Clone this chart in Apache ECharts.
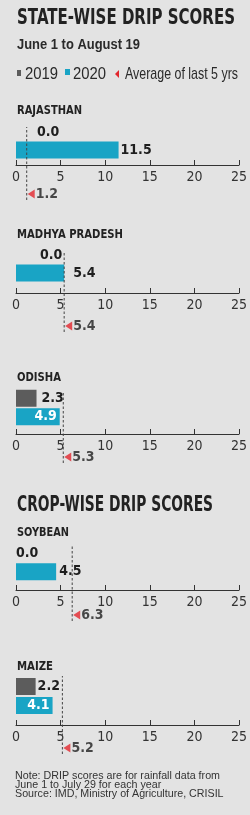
<!DOCTYPE html>
<html><head><meta charset="utf-8">
<script src="https://cdn.jsdelivr.net/npm/echarts@6/dist/echarts.min.js"></script>
<style>html,body{margin:0;padding:0;background:#e3e3e3;}#c{width:250px;height:815px;}</style>
</head><body><div id="c"></div>
<script>
// ---- data ----
const titleMain = 'STATE-WISE DRIP SCORES';
const subtitle = 'June 1 to August 19';
const legendLabels = ['2019', '2020', 'Average of last 5 yrs'];
const titleCrop = 'CROP-WISE DRIP SCORES';
const panelNames = ['RAJASTHAN', 'MADHYA PRADESH', 'ODISHA', 'SOYBEAN', 'MAIZE'];
const years = ['2019', '2020'];
const scores2019 = [0.0, 0.0, 2.3, 0.0, 2.2];
const scores2020 = [11.5, 5.4, 4.9, 4.5, 4.1];
const avg5yr = [1.2, 5.4, 5.3, 6.3, 5.2];
const axisMin = 0, axisMax = 25, axisStep = 5;
const notes = ['Note: DRIP scores are for rainfall data from', 'June 1 to July 29 for each year', 'Source: IMD, Ministry of Agriculture, CRISIL'];

// ---- layout / style ----
const C_BG = '#e3e3e3', C_GREY = '#5c5c5c', C_CYAN = '#19a4c5', C_RED = '#e2262d', C_TXT = '#1e1e1e';
const NARROW = '"DejaVu Sans Condensed","Liberation Sans Narrow","Liberation Sans",sans-serif';
const SANS = '"Liberation Sans",sans-serif';
const HEAVY = '"DejaVu Sans",sans-serif';
const L = 16, R = 11;
const layout = [
  {nameY:111, nameW:65,  top:123, h:36, off:6,  dashTop:127, markY:194, l19:['right',21], l20:['right',2]},
  {nameY:235, nameW:106, top:246, h:36, off:11, dashTop:252, markY:326, l19:['right',24], l20:['right',9]},
  {nameY:378, nameW:44,  top:389, h:37, off:8,  dashTop:393, markY:457, l19:['right',5],  l20:['insideRight',3]},
  {nameY:533, nameW:52,  top:544, h:37, off:9,  dashTop:545, markY:615, l19:['right',0],  l20:['right',3]},
  {nameY:667, nameW:36,  top:677, h:38, off:10, dashTop:676, markY:748, l19:['right',2],  l20:['insideRight',3]}
];

const mctx = document.createElement('canvas').getContext('2d');
function textEl(text, font, x, y, s, fill) {
  return {type:'text', x:x, y:y, scaleX:s, z:10,
    style:{text:text, font:font, fill:fill || C_TXT, verticalAlign:'middle', align:'left'}};
}
function fitText(text, font, x, y, w, fill) {
  mctx.font = font;
  return textEl(text, font, x, y, w / mctx.measureText(text).width, fill);
}

const graphic = [];
graphic.push(fitText(titleMain, 'bold 22px ' + HEAVY, 17, 18, 218, '#222'));
graphic.push(fitText(subtitle, 'bold 15px ' + SANS, 17, 45, 123, '#2a2a2a'));
graphic.push(fitText(titleCrop, 'bold 22px ' + HEAVY, 17, 505, 196, '#222'));
// legend
graphic.push({type:'rect', shape:{x:17, y:70, width:4, height:6}, style:{fill:C_GREY}});
graphic.push(fitText(legendLabels[0], '17px ' + SANS, 25, 74, 33, '#2a2a2a'));
graphic.push({type:'rect', shape:{x:65, y:69, width:5, height:6}, style:{fill:C_CYAN}});
graphic.push(fitText(legendLabels[1], '17px ' + SANS, 73, 74, 33, '#2a2a2a'));
graphic.push({type:'polygon', shape:{points:[[115,74],[119,70],[119,78]]}, style:{fill:C_RED}});
graphic.push(fitText(legendLabels[2], '17px ' + SANS, 125, 74, 113, '#2a2a2a'));
panelNames.forEach((n, i) => graphic.push(fitText(n, 'bold 12.5px ' + HEAVY, 17, layout[i].nameY, layout[i].nameW, '#222')));
const noteFont = '10.5px ' + SANS;
mctx.font = noteFont;
const noteScale = 205 / mctx.measureText(notes[0]).width;
notes.forEach((t, i) => graphic.push(textEl(t, noteFont, 15, 776 + i * 9, noteScale, '#333')));

const grid = [], xAxis = [], yAxis = [], series = [];
layout.forEach((p, i) => {
  grid.push({left:L, right:R, top:p.top, height:p.h});
  xAxis.push({type:'value', gridIndex:i, min:axisMin, max:axisMax, interval:axisStep, offset:p.off,
    axisLine:{show:true, lineStyle:{color:'#333', width:1}},
    axisTick:{show:true, inside:true, length:5, lineStyle:{color:'#333', width:1}},
    axisLabel:{fontFamily:NARROW, fontSize:14, color:'#333', margin:5},
    splitLine:{show:false}});
  yAxis.push({type:'category', gridIndex:i, data:years, inverse:true, show:false});
  const vals = [scores2019[i], scores2020[i]];
  const cols = [C_GREY, C_CYAN];
  const lbls = [p.l19, p.l20];
  series.push({type:'bar', xAxisIndex:i, yAxisIndex:i, barWidth:17, animation:false,
    data: vals.map((v, k) => ({value:v, itemStyle:{color:cols[k]},
      label:{show:true, position:lbls[k][0], distance:lbls[k][1],
        color: lbls[k][0] === 'insideRight' ? '#fff' : C_TXT,
        fontFamily:NARROW, fontWeight:'bold', fontSize:14,
        formatter: (d) => d.value.toFixed(1)}}))});
});
layout.forEach((p, i) => {
  const gi = layout.length + i;
  grid.push({left:L, right:R, top:p.dashTop, height:(p.markY + 6) - p.dashTop});
  xAxis.push({type:'value', gridIndex:gi, min:axisMin, max:axisMax, show:false});
  yAxis.push({type:'value', gridIndex:gi, min:0, max:1, show:false});
  series.push({type:'line', xAxisIndex:gi, yAxisIndex:gi, symbol:'none', animation:false, z:5,
    lineStyle:{color:'#444', width:1, type:[2.5, 2]},
    data:[[avg5yr[i], 0], [avg5yr[i], 1]]});
  series.push({type:'scatter', xAxisIndex:gi, yAxisIndex:gi, animation:false, z:6,
    symbol:'triangle', symbolRotate:90, symbolSize:[9, 7], symbolOffset:[4.5, -6],
    itemStyle:{color:C_RED},
    label:{show:true, position:'right', distance:1, color:C_TXT,
      fontFamily:NARROW, fontWeight:'bold', fontSize:14, formatter:(d) => d.value[0].toFixed(1)},
    data:[[avg5yr[i], 0]]});
});

const chart = echarts.init(document.getElementById('c'), null, {renderer:'canvas'});
chart.setOption({backgroundColor:C_BG, animation:false, grid, xAxis, yAxis, series, graphic});
</script></body></html>
